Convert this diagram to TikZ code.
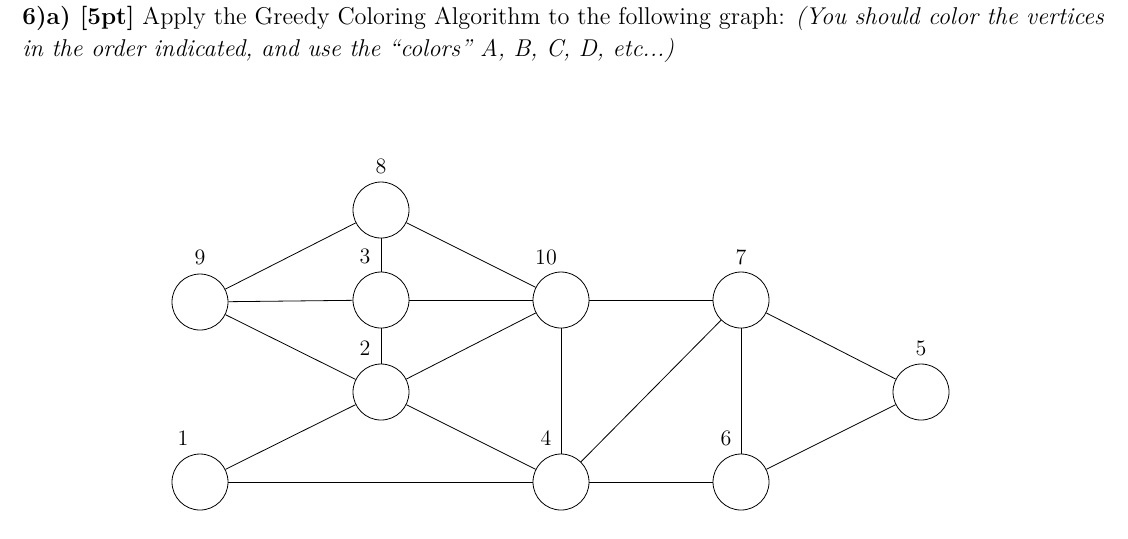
\documentclass[tikz,border=0pt]{standalone}
\usepackage{tikz}
\usetikzlibrary{positioning}
\tikzset{
  vertex/.style = {draw, circle, thin, minimum size=28pt, inner sep=0pt},
  vlabel/.style = {inner sep=0pt, font=\fontsize{11}{13}\selectfont},
  edge/.style   = {thin}
}
\begin{document}
\begin{tikzpicture}[x=0.5pt, y=-0.5pt]
    \useasboundingbox (0,0) rectangle (1128,538);

    % Title
    \node[anchor=north west, inner sep=0pt, align=left, font=\fontsize{12.15}{16}\selectfont] (title) at (22,6)
    {\textbf{6)a) [5pt]} Apply the Greedy Coloring Algorithm to the following graph: \textit{(You should color the vertices}\\
     \textit{in the order indicated, and use the ``colors'' A, B, C, D, etc...)}};

    % === Vertices ===
    \node[vertex] (v8)  at (381, 210) {};
    \node[vertex] (v3)  at (381, 300) {};
    \node[vertex] (v2)  at (381, 392) {};
    \node[vertex] (v9)  at (200, 302) {};
    \node[vertex] (v1)  at (200, 482) {};
    \node[vertex] (v10) at (561, 300) {};
    \node[vertex] (v4)  at (561, 482) {};
    \node[vertex] (v7)  at (741, 300) {};
    \node[vertex] (v6)  at (741, 482) {};
    \node[vertex] (v5)  at (921, 392) {};

    % === Labels ===
    \node[vlabel] (l8)  at (381, 166) {8};
    \node[vlabel] (l3)  at (365, 256) {3};
    \node[vlabel] (l2)  at (365, 348) {2};
    \node[vlabel] (l9)  at (200, 257) {9};
    \node[vlabel] (l1)  at (183, 438) {1};
    \node[vlabel] (l10) at (546, 257) {10};
    \node[vlabel] (l4)  at (546, 438) {4};
    \node[vlabel] (l7)  at (741, 257) {7};
    \node[vlabel] (l6)  at (726, 438) {6};
    \node[vlabel] (l5)  at (921, 348) {5};

    % === Edges ===
    \foreach \a/\b in {v9/v8, v9/v3, v9/v2, v8/v3, v8/v10, v3/v2, v3/v10,
                       v2/v10, v2/v1, v2/v4, v1/v4, v10/v4, v10/v7, v4/v7,
                       v4/v6, v7/v6, v7/v5, v6/v5}
        \draw[edge] (\a) -- (\b);
\end{tikzpicture}
\end{document}
